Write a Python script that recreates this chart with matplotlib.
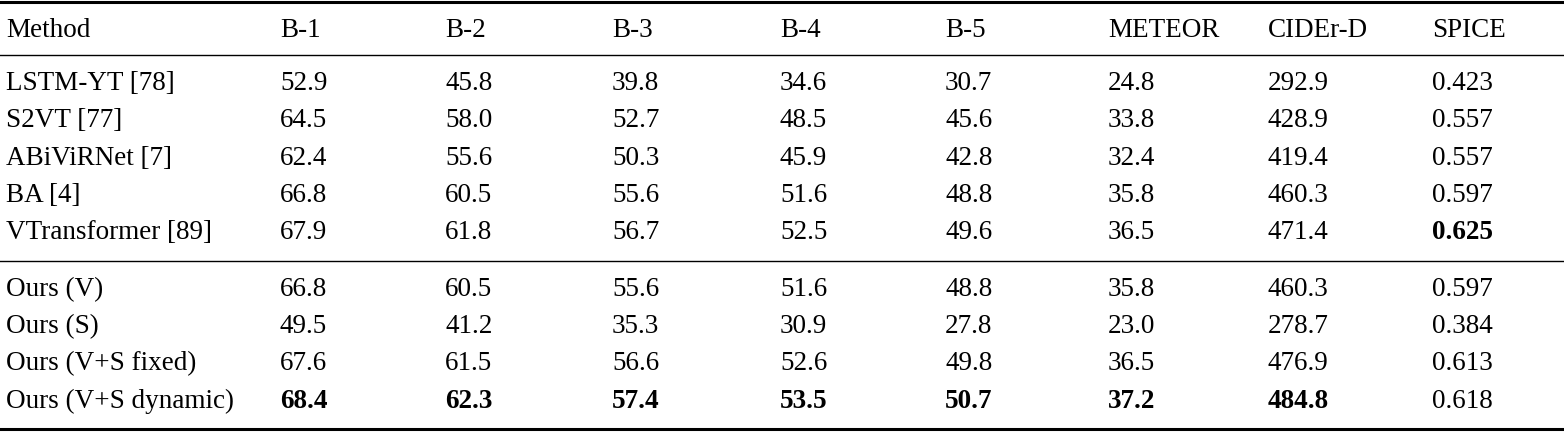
import matplotlib.pyplot as plt

headers = ["Method", "B-1", "B-2", "B-3", "B-4", "B-5", "METEOR", "CIDEr-D", "SPICE"]
methods_prior = ["LSTM-YT [78]", "S2VT [77]", "ABiViRNet [7]", "BA [4]", "VTransformer [89]"]
values_prior = [
    ["52.9", "45.8", "39.8", "34.6", "30.7", "24.8", "292.9", "0.423"],
    ["64.5", "58.0", "52.7", "48.5", "45.6", "33.8", "428.9", "0.557"],
    ["62.4", "55.6", "50.3", "45.9", "42.8", "32.4", "419.4", "0.557"],
    ["66.8", "60.5", "55.6", "51.6", "48.8", "35.8", "460.3", "0.597"],
    ["67.9", "61.8", "56.7", "52.5", "49.6", "36.5", "471.4", "0.625"],
]
methods_ours = ["Ours (V)", "Ours (S)", "Ours (V+S fixed)", "Ours (V+S dynamic)"]
values_ours = [
    ["66.8", "60.5", "55.6", "51.6", "48.8", "35.8", "460.3", "0.597"],
    ["49.5", "41.2", "35.3", "30.9", "27.8", "23.0", "278.7", "0.384"],
    ["67.6", "61.5", "56.6", "52.6", "49.8", "36.5", "476.9", "0.613"],
    ["68.4", "62.3", "57.4", "53.5", "50.7", "37.2", "484.8", "0.618"],
]
# (row index in full body, column index) of bold cells
bold_cells = {(4, 7)} | {(8, c) for c in range(7)}

W, H = 1564, 433
fig = plt.figure(figsize=(W / 100, H / 100), dpi=100)
ax = fig.add_axes([0, 0, 1, 1])
ax.set_xlim(0, W)
ax.set_ylim(H, 0)
ax.axis("off")

font = "Liberation Serif"
fs = 19.5
col_x = [6, 280, 445, 612, 780, 945, 1108, 1268, 1432]
dy = 8  # baseline offset below row centre

for x, h in zip(col_x, headers):
    ax.text(x, 29 + dy, h, fontsize=fs, family=font, va="baseline", ha="left")

rows = methods_prior + methods_ours
vals = values_prior + values_ours
row_y = [82, 119, 157, 194, 231, 288, 325, 362, 400]
for r, (name, v, y) in enumerate(zip(rows, vals, row_y)):
    ax.text(col_x[0], y + dy, name, fontsize=fs, family=font, va="baseline", ha="left")
    for c, s in enumerate(v):
        ax.text(col_x[c + 1], y + dy, s, fontsize=fs, family=font, va="baseline", ha="left",
                weight="bold" if (r, c) in bold_cells else "normal")

ax.plot([0, W], [1.5, 1.5], color="black", lw=2.2)
ax.plot([0, W], [55, 55], color="black", lw=1.0)
ax.plot([0, W], [261, 261], color="black", lw=1.0)
ax.plot([0, W], [429, 429], color="black", lw=2.2)

fig.savefig("out.png", dpi=100)
